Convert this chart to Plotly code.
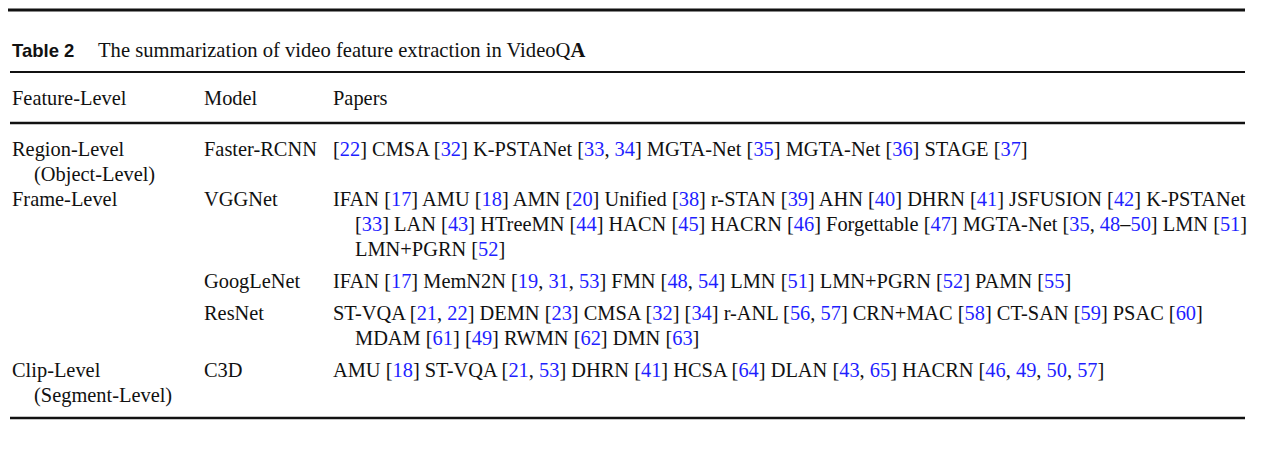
import re
import plotly.graph_objects as go

caption_label = "Table 2"
caption_text = "The summarization of video feature extraction in Video<span>Q</span><b>A</b>"
headers = ["Feature-Level", "Model", "Papers"]
feature_levels = ["Region-Level", "(Object-Level)", "Frame-Level", "Clip-Level", "(Segment-Level)"]
models = ["Faster-RCNN", "VGGNet", "GoogLeNet", "ResNet", "C3D"]
paper_lines = [
    "[22] CMSA [32] K-PSTANet [33, 34] MGTA-Net [35] MGTA-Net [36] STAGE [37]",
    "IFAN [17] AMU [18] AMN [20] Unified [38] r-STAN [39] AHN [40] DHRN [41] JSFUSION [42] K-PSTANet",
    "[33] LAN [43] HTreeMN [44] HACN [45] HACRN [46] Forgettable [47] MGTA-Net [35, 48\u201350] LMN [51]",
    "LMN+PGRN [52]",
    "IFAN [17] MemN2N [19, 31, 53] FMN [48, 54] LMN [51] LMN+PGRN [52] PAMN [55]",
    "ST-VQA [21, 22] DEMN [23] CMSA [32] [34] r-ANL [56, 57] CRN+MAC [58] CT-SAN [59] PSAC [60]",
    "MDAM [61] [49] RWMN [62] DMN [63]",
    "AMU [18] ST-VQA [21, 53] DHRN [41] HCSA [64] DLAN [43, 65] HACRN [46, 49, 50, 57]",
]

BLUE = "#1f1fff"
FONT = "Liberation Serif"
OFF = 8  # page body margin

def colorize(s):
    def rep(m):
        inner = re.sub(r"(\d+)", lambda k: f"<span style='color:{BLUE}'>{k.group(1)}</span>", m.group(1))
        return "[" + inner + "]"
    return re.sub(r"\[([^\]]*)\]", rep, s)

fig = go.Figure()
ann = []
def txt(x, y, t, size=20.4, family=FONT, color="#111"):
    ann.append(dict(x=x, y=y, text=t, xref="x", yref="y", showarrow=False,
                    xanchor="left", yanchor="middle",
                    font=dict(family=family, size=size, color=color)))

txt(10, 50, f"<b>{caption_label}</b>", size=18.5, family="Liberation Sans")
txt(96, 50, caption_text, size=20.6)
for x, h in zip([10, 202, 331], headers):
    txt(x, 98, h)

fl_pos = [(10, 149), (32, 174), (10, 199), (10, 370), (32, 395)]
for (x, y), t in zip(fl_pos, feature_levels):
    txt(x, y, t)
for y, t in zip([149, 199, 281, 313, 370], models):
    txt(202, y, t)
pl_pos = [(331, 149), (331, 199), (353, 224), (353, 249), (331, 281), (331, 313), (353, 338), (331, 370)]
for (x, y), t in zip(pl_pos, paper_lines):
    txt(x, y, colorize(t))

shapes = []
for y, w in [(10, 3), (72, 2), (123, 2.5), (418, 2.5)]:
    shapes.append(dict(type="line", xref="x", yref="y", x0=10 if y != 10 else 0, x1=1245, y0=y, y1=y,
                       line=dict(color="#111", width=w)))

fig.update_layout(width=1268, height=470, margin=dict(l=0, r=0, t=0, b=0),
                  paper_bgcolor="white", plot_bgcolor="white",
                  annotations=ann, shapes=shapes,
                  xaxis=dict(range=[OFF, 1268 + OFF], visible=False, fixedrange=True),
                  yaxis=dict(range=[470 + OFF, OFF], visible=False, fixedrange=True),
                  showlegend=False)
fig.write_html("out.html")
